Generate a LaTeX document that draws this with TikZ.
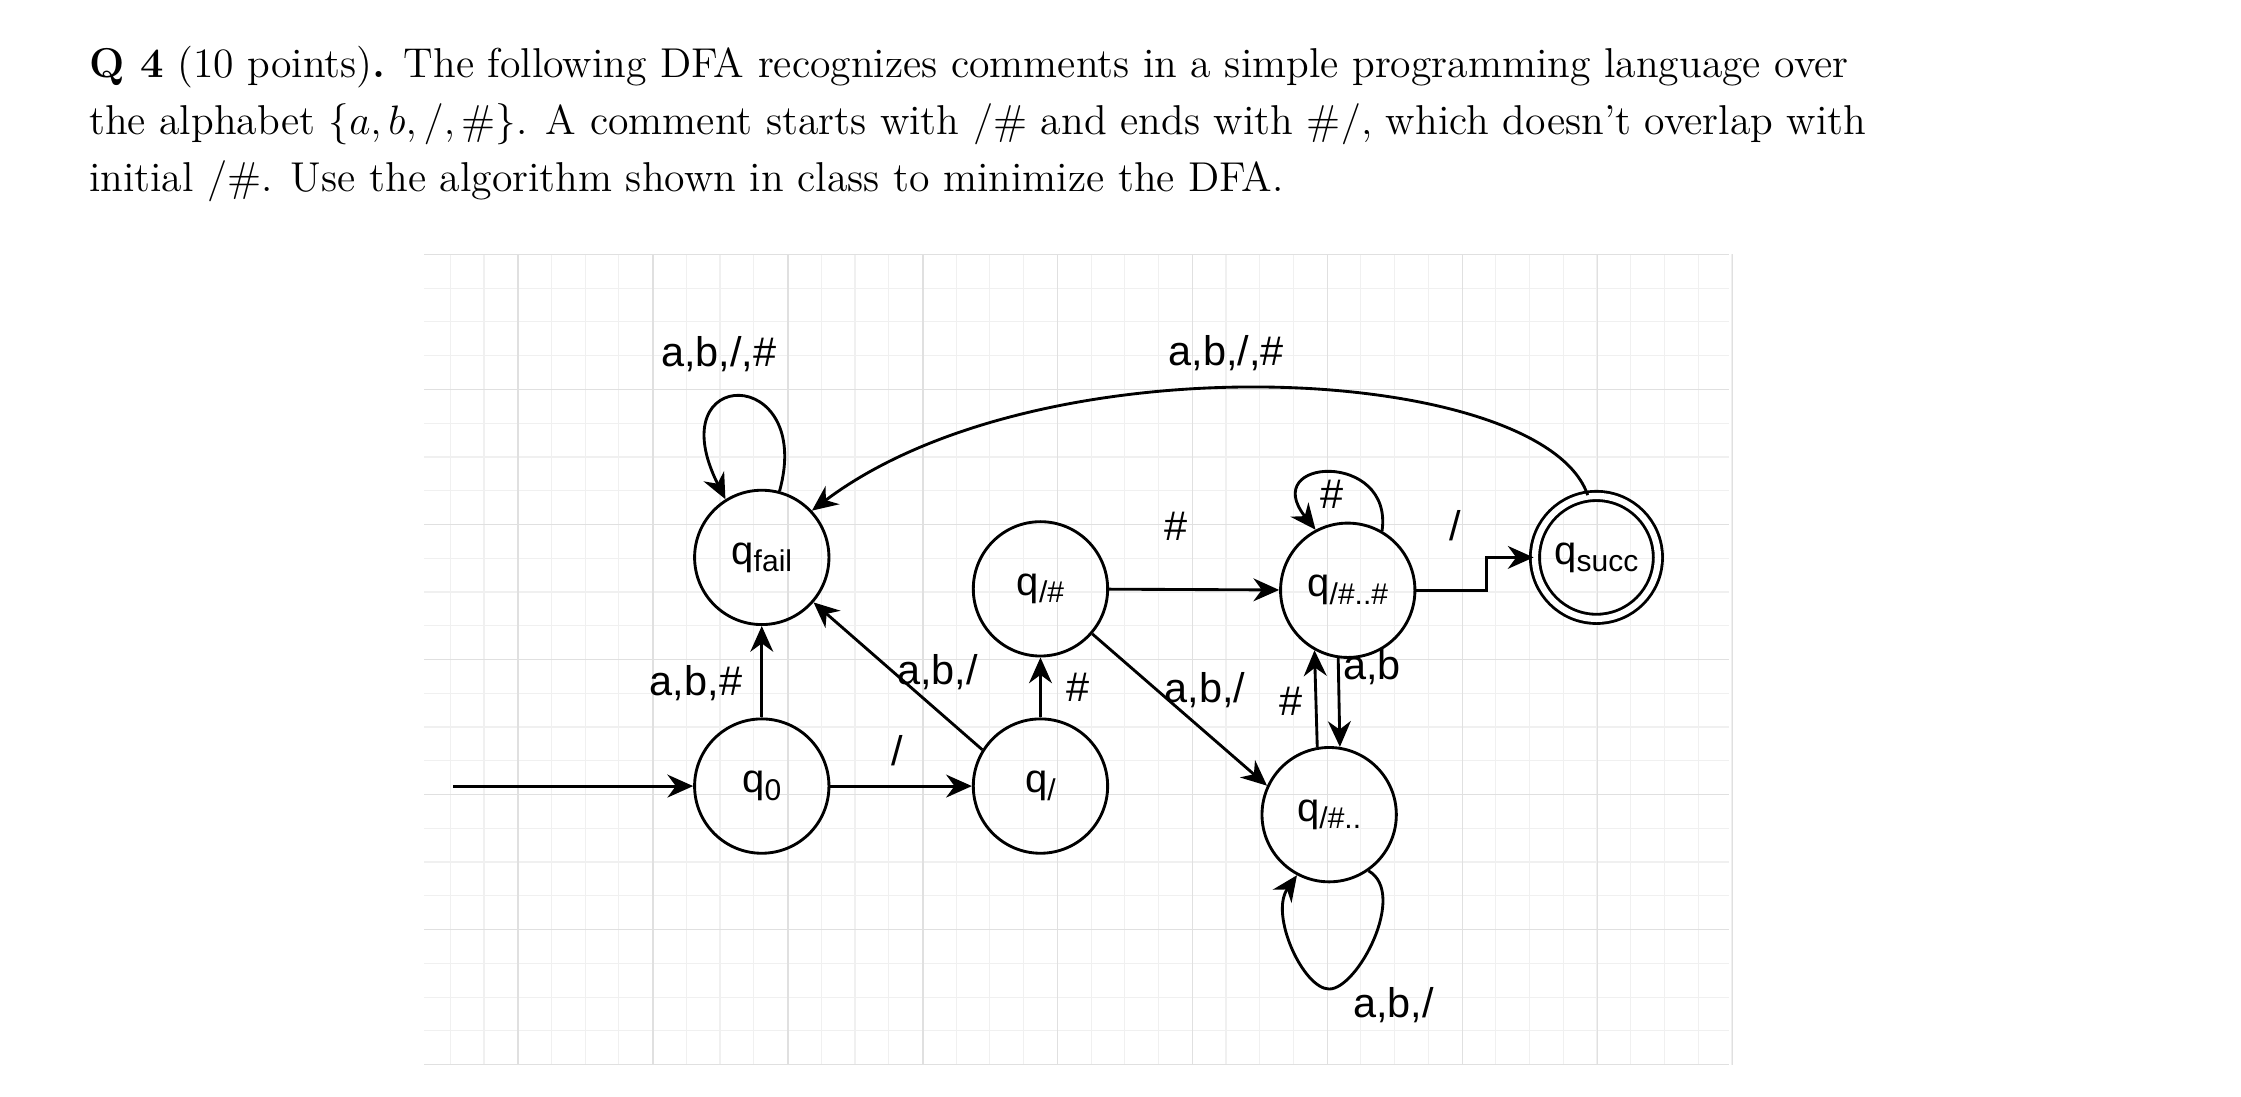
\documentclass[tikz,border=0pt]{standalone}
\usepackage{fontspec}
\newfontfamily\dsans{Liberation Sans}
\usetikzlibrary{arrows.meta}
\begin{document}
\begin{tikzpicture}[x=0.5pt,y=-0.5pt,
  st/.style={circle,draw,line width=1pt,minimum size=47pt,inner sep=0pt,font=\dsans\fontsize{14}{14}\selectfont},
  arr/.style={line width=1pt,-{Stealth[length=9pt,width=8pt]}},
  lab/.style={font=\dsans\fontsize{14.5}{16}\selectfont,inner sep=0pt}]
\newcommand{\sbx}[1]{\raisebox{-0.35ex}{\fontsize{10.5}{10}\selectfont #1}}
\useasboundingbox[fill=white] (0,0) rectangle (1568,767);
% grid
\foreach \i in {0,...,38} {\draw[black!6,line width=0.4pt] ({315+23.6*\i},178) -- ({315+23.6*\i},745);}
\foreach \j in {0,...,24} {\draw[black!6,line width=0.4pt] (297,{178+23.62*\j}) -- (1210,{178+23.62*\j});}
\foreach \i in {0,...,9} {\draw[black!12,line width=0.5pt] ({362.5+94.4*\i},178) -- ({362.5+94.4*\i},745);}
\foreach \j in {0,...,6} {\draw[black!12,line width=0.5pt] (297,{178+94.5*\j}) -- (1210,{178+94.5*\j});}
% title
\begin{scope}[every node/.style={anchor=base west,inner sep=0pt,font=\fontsize{14.6}{18}\selectfont}]
\node (t1) at (62,54) {\textbf{Q 4} (10 points)\textbf{.} The following DFA recognizes comments in a simple programming language over};
\node (t2) at (62,94) {the alphabet $\{a,b,/,\#\}$. A comment starts with $/\#$ and ends with $\#/$, which doesn’t overlap with};
\node (t3) at (62,134) {initial $/\#$. Use the algorithm shown in class to minimize the DFA.};
\end{scope}
% states
\node[st] (qf) at (533,390) {q\sbx{fail}};
\node[st] (qs) at (728,412) {q\sbx{/\#}};
\node[st] (qh) at (943,413) {q\sbx{/\#..\#}};
\node[st,minimum size=43pt,double,double distance=2.2pt] (qa) at (1117,390) {q\sbx{succ}};
\node[st] (q0) at (533,550) {q\sbx{0}};
\node[st] (q1) at (728,550) {q\sbx{/}};
\node[st] (qd) at (930,570) {q\sbx{/\#..}};
\coordinate (s) at (317,550);
\coordinate (b1) at (1040,413);
\coordinate (b2) at (1040,390);
% edges
\draw[arr] (s) -- (q0);
\draw[arr] (q0) -- (qf);
\draw[arr] (q0) -- (q1);
\draw[arr] (q1.148) -- (qf.-41);
\draw[arr] (q1) -- (qs);
\draw[arr] (qs) -- (qh);
\draw[arr] (qs.-41) -- (qd.155);
\draw[arr] (qd.100) -- (qh.241);
\draw[arr] (qh.262) -- (qd.81);
\draw[arr] (qh.east) -- (b1) -- (b2) -- (qa.west);
\draw[arr] (qa.98) .. controls (1080,255) and (730,235) .. (qf.43);
\draw[arr] (qf.75) .. controls (570,255) and (460,255) .. (qf.122);
\draw[arr] (qh.60) .. controls (975,315) and (880,320) .. (qh.118);
\draw[arr] (qd.-55) .. controls (985,625) and (950,692) .. (930,692) .. controls (912,692) and (888,640) .. (qd.-118);
% labels
\node[lab] (l1) at (503,248) {a,b,/,\#};
\node[lab] (l2) at (858,247) {a,b,/,\#};
\node[lab] (l3) at (487,478) {a,b,\#};
\node[lab] (l4) at (628,525) {/};
\node[lab] (l5) at (656,470) {a,b,/};
\node[lab] (l6) at (754,481) {\#};
\node[lab] (l7) at (823,368) {\#};
\node[lab] (l8) at (843,483) {a,b,/};
\node[lab] (l9) at (903,491) {\#};
\node[lab] (l10) at (960,467) {a,b};
\node[lab] (l11) at (1018,368) {/};
\node[lab] (l12) at (932,346) {\#};
\node[lab] (l13) at (975,703) {a,b,/};
\end{tikzpicture}
\end{document}
